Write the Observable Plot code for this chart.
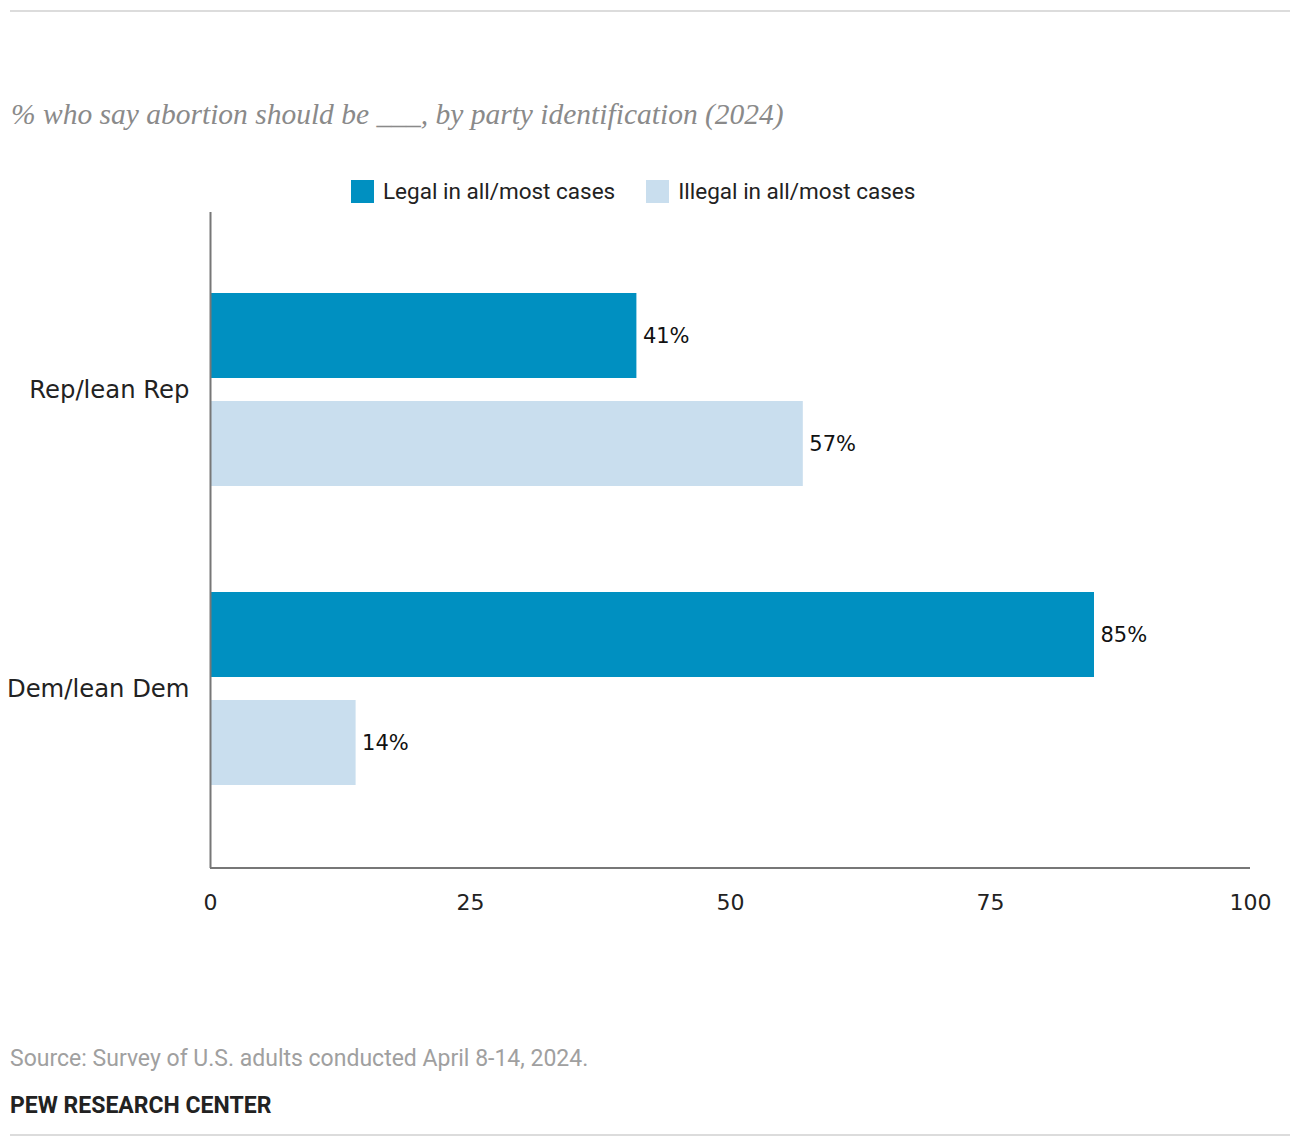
<!DOCTYPE html>
<html>
<head>
<meta charset="utf-8">
<script src="https://cdn.jsdelivr.net/npm/d3@7"></script>
<script src="https://cdn.jsdelivr.net/npm/@observablehq/plot@0.6"></script>
<style>
  html, body { margin: 0; padding: 0; background: #fff; }
  #wrap { position: relative; width: 1300px; height: 1148px; overflow: hidden; }
  .rule { position: absolute; left: 10px; width: 1280px; height: 2px; background: #dcdcdc; }
  #title { position: absolute; left: 11px; top: 98px; font-family: "Liberation Serif", serif; font-style: italic; font-size: 29.5px; color: #8a8a8a; white-space: nowrap; }
  #legend { position: absolute; top: 178px; left: 351px; font-family: Roboto, sans-serif; font-size: 22.5px; color: #222; white-space: nowrap; display: flex; align-items: center; }
  .sw { display: inline-block; width: 23px; height: 23px; margin-right: 9px; }
  .item { display: flex; align-items: center; margin-right: 31px; }
  #chart { position: absolute; left: 0; top: 150px; }
  #source { position: absolute; left: 10px; top: 1045px; font-family: Roboto, sans-serif; font-size: 23px; color: #a0a0a0; white-space: nowrap; }
  #brand { position: absolute; left: 10px; top: 1092px; font-family: Roboto, sans-serif; font-weight: bold; font-size: 23px; color: #222; white-space: nowrap; }
</style>
</head>
<body>
<div id="wrap">
  <div class="rule" style="top:10px"></div>
  <div id="title">% who say abortion should be ___, by party identification (2024)</div>
  <div id="legend"></div>
  <div id="chart"></div>
  <div id="source">Source: Survey of U.S. adults conducted April 8-14, 2024.</div>
  <div id="brand">PEW RESEARCH CENTER</div>
  <div class="rule" style="top:1134px"></div>
</div>
<script>
const parties = ["Rep/lean Rep", "Dem/lean Dem"];
const seriesNames = ["Legal in all/most cases", "Illegal in all/most cases"];
const legalValues = [41, 85];
const illegalValues = [57, 14];
const xTicks = [0, 25, 50, 75, 100];
const colors = ["#0090C1", "#C9DEEE"];

const legalData = parties.map((p, i) => ({party: p, value: legalValues[i]}));
const illegalData = parties.map((p, i) => ({party: p, value: illegalValues[i]}));

// legend
const legend = document.getElementById("legend");
seriesNames.forEach((s, i) => {
  const it = document.createElement("span");
  it.className = "item";
  it.innerHTML = `<span class="sw" style="background:${colors[i]}"></span><span>${s}</span>`;
  legend.appendChild(it);
});

const FONT = "'DejaVu Sans', sans-serif";
const inset = 108;
const baseline = (index, scales, values, dimensions) => {
  const {width, height, marginLeft, marginRight, marginBottom} = dimensions;
  const l = document.createElementNS("http://www.w3.org/2000/svg", "line");
  l.setAttribute("x1", marginLeft);
  l.setAttribute("x2", width - marginRight);
  l.setAttribute("y1", height - marginBottom);
  l.setAttribute("y2", height - marginBottom);
  l.setAttribute("stroke", "#777");
  l.setAttribute("stroke-width", 2);
  return l;
};

const chart = Plot.plot({
  width: 1300,
  height: 800,
  marginTop: 62,
  marginBottom: 82,
  marginLeft: 210,
  marginRight: 50,
  style: {background: "transparent", fontFamily: FONT, color: "#222"},
  x: {domain: [0, 100], ticks: xTicks, label: null},
  y: {domain: parties, paddingInner: 0.35333, paddingOuter: 0.27, align: 0.494, label: null},
  marks: [
    Plot.barX(legalData, {x: "value", y: "party", fill: colors[0], insetBottom: inset}),
    Plot.barX(illegalData, {x: "value", y: "party", fill: colors[1], insetTop: inset}),
    Plot.text(legalData, {x: "value", y: "party", text: d => d.value + "%", dx: 6, dy: -54, textAnchor: "start", fontSize: 21, fontFamily: FONT, fill: "#111"}),
    Plot.text(illegalData, {x: "value", y: "party", text: d => d.value + "%", dx: 6, dy: 54, textAnchor: "start", fontSize: 21, fontFamily: FONT, fill: "#111"}),
    Plot.ruleX([0], {stroke: "#777", strokeWidth: 2}),
    baseline,
    Plot.axisX({ticks: xTicks, tickSize: 0, tickPadding: 26, fontSize: 22, fontFamily: FONT, fill: "#222", label: null}),
    Plot.axisY({tickSize: 0, tickPadding: 21, fontSize: 24.3, fontFamily: FONT, fill: "#222", label: null})
  ]
});
document.getElementById("chart").appendChild(chart);
</script>
</body>
</html>
